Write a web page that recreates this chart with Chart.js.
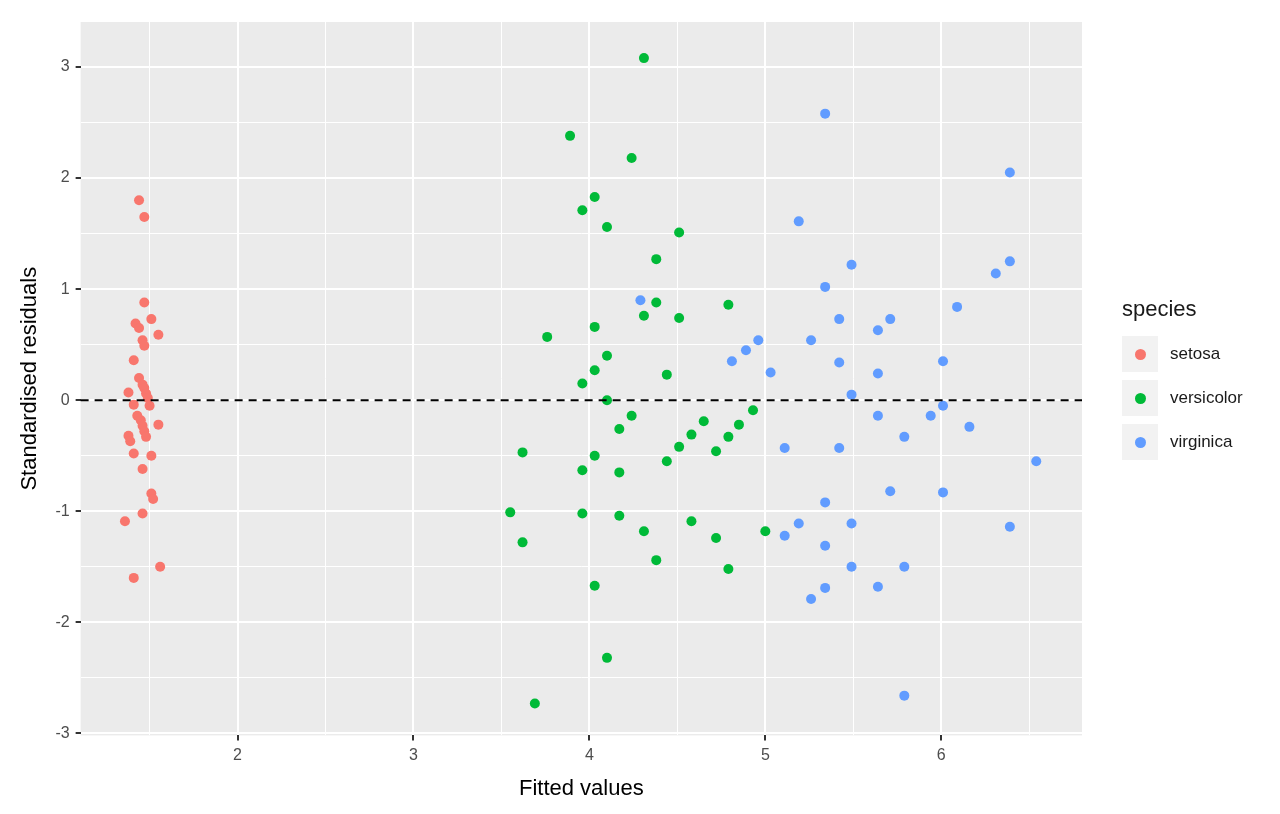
<!DOCTYPE html>
<html>
<head>
<meta charset="utf-8">
<script src="https://cdn.jsdelivr.net/npm/chart.js@4/dist/chart.umd.min.js"></script>
<style>
body{margin:0;background:#fff;font-family:Arial,"Liberation Sans",sans-serif}
#wrap{position:relative;width:1280px;height:814px}
#legend{position:absolute;left:1122px;top:296px;color:#1a1a1a}
#legend .t{font-size:22px;margin-bottom:10px}
#legend .row{display:flex;align-items:center;height:44px}
#legend .key{width:36px;height:36px;background:#f2f2f2;display:flex;align-items:center;justify-content:center;margin-right:12px}
#legend .dot{width:11px;height:11px;border-radius:50%}
#legend span{font-size:17px;color:#1a1a1a}
</style>
</head>
<body>
<div id="wrap">
<canvas id="chart" width="1280" height="814"></canvas>
<div id="legend"></div>
</div>
<script>
// dados (valores ajustados, resíduos padronizados)
const species = ["setosa", "versicolor", "virginica"];
const colors = ["#F8766D", "#00BA38", "#619CFF"];

const setosaX = [1.44,1.47,1.47,1.42,1.44,1.51,1.55,1.46,1.47,1.41,1.44,1.46,1.47,1.48,1.38,1.49,1.41,1.50,1.43,1.45,1.46,1.47,1.48,1.55,1.38,1.39,1.41,1.51,1.46,1.51,1.52,1.46,1.36,1.41,1.56];
const setosaY = [1.80,1.65,0.88,0.69,0.65,0.73,0.59,0.54,0.49,0.36,0.20,0.14,0.11,0.06,0.07,0.02,-0.04,-0.05,-0.14,-0.18,-0.23,-0.28,-0.33,-0.22,-0.32,-0.37,-0.48,-0.50,-0.62,-0.84,-0.89,-1.02,-1.09,-1.60,-1.50];

const versicolorX = [4.31,3.89,4.24,4.03,3.96,4.10,4.51,4.38,4.38,4.31,4.79,4.51,4.03,3.76,4.10,4.03,4.44,3.96,4.10,4.24,4.17,4.93,4.85,4.65,4.58,4.79,4.72,4.51,4.44,3.62,4.03,3.96,4.17,3.55,3.96,4.17,3.62,4.31,4.58,4.72,5.00,4.38,4.79,4.03,4.10,3.69];
const versicolorY = [3.08,2.38,2.18,1.83,1.71,1.56,1.51,1.27,0.88,0.76,0.86,0.74,0.66,0.57,0.40,0.27,0.23,0.15,0.00,-0.14,-0.26,-0.09,-0.22,-0.19,-0.31,-0.33,-0.46,-0.42,-0.55,-0.47,-0.50,-0.63,-0.65,-1.01,-1.02,-1.04,-1.28,-1.18,-1.09,-1.24,-1.18,-1.44,-1.52,-1.67,-2.32,-2.73];

const virginicaX = [5.34,6.39,5.19,5.49,6.39,6.31,5.34,6.09,4.29,5.42,5.71,5.64,5.26,4.96,4.89,4.81,5.42,6.01,5.03,5.64,5.49,6.01,5.64,5.94,6.16,5.79,5.11,5.42,6.54,5.71,6.01,5.34,5.49,5.19,5.11,6.39,5.34,5.49,5.79,5.26,5.34,5.64,5.79];
const virginicaY = [2.58,2.05,1.61,1.22,1.25,1.14,1.02,0.84,0.90,0.73,0.73,0.63,0.54,0.54,0.45,0.35,0.34,0.35,0.25,0.24,0.05,-0.05,-0.14,-0.14,-0.24,-0.33,-0.43,-0.43,-0.55,-0.82,-0.83,-0.92,-1.11,-1.11,-1.22,-1.14,-1.31,-1.50,-1.50,-1.79,-1.69,-1.68,-2.66];

const xTicks = [1.5,2,2.5,3,3.5,4,4.5,5,5.5,6,6.5];
const yTicks = [-3,-2.5,-2,-1.5,-1,-0.5,0,0.5,1,1.5,2,2.5,3];

const xs = [setosaX, versicolorX, virginicaX];
const ys = [setosaY, versicolorY, virginicaY];

const isMajor = v => Number.isInteger(v);

// fundo cinza do painel + linha tracejada em zero
const panelPlugin = {
    id: "panel",
    beforeDraw(chart) {
        const a = chart.chartArea, c = chart.ctx;
        c.save();
        c.fillStyle = "#EBEBEB";
        c.fillRect(a.left, a.top, a.right - a.left, a.bottom - a.top);
        c.restore();
    },
    afterDatasetsDraw(chart) {
        const a = chart.chartArea, c = chart.ctx;
        const y = chart.scales.y.getPixelForValue(0);
        c.save();
        c.strokeStyle = "#000";
        c.lineWidth = 2;
        c.setLineDash([8, 6]);
        c.beginPath();
        c.moveTo(a.left, y);
        c.lineTo(a.right, y);
        c.stroke();
        c.restore();
    }
};

const gridOpts = {
    color: "#fff",
    lineWidth: ctx => (ctx.tick && isMajor(ctx.tick.value)) ? 2 : 1,
    tickColor: ctx => (ctx.tick && isMajor(ctx.tick.value)) ? "#333" : "rgba(0,0,0,0)",
    tickLength: 5,
    drawOnChartArea: true
};

new Chart(document.getElementById("chart"), {
    type: "scatter",
    data: {
        datasets: species.map((s, i) => ({
            label: s,
            data: xs[i].map((x, j) => ({ x: x, y: ys[i][j] })),
            backgroundColor: colors[i],
            borderWidth: 0,
            pointRadius: 5
        }))
    },
    options: {
        responsive: false,
        animation: false,
        layout: { padding: { top: 22, right: 198, bottom: 8, left: 13 } },
        plugins: { legend: { display: false }, tooltip: { enabled: false } },
        scales: {
            x: {
                type: "linear",
                min: 1.108, max: 6.80,
                afterBuildTicks: sc => { sc.ticks = xTicks.map(v => ({ value: v })); },
                grid: gridOpts,
                border: { display: false },
                ticks: {
                    color: "#4D4D4D", font: { size: 16 }, padding: 6,
                    callback: v => isMajor(v) ? String(v) : ""
                },
                title: { display: true, text: "Fitted values", color: "#000", font: { size: 22 }, padding: { top: 4 } }
            },
            y: {
                type: "linear",
                min: -3.018, max: 3.405,
                afterBuildTicks: sc => { sc.ticks = yTicks.map(v => ({ value: v })); },
                grid: gridOpts,
                border: { display: false },
                ticks: {
                    color: "#4D4D4D", font: { size: 16 }, padding: 6,
                    callback: v => isMajor(v) ? String(v) : ""
                },
                title: { display: true, text: "Standardised residuals", color: "#000", font: { size: 22 }, padding: { bottom: 6 } }
            }
        }
    },
    plugins: [panelPlugin]
});

// legenda estilo ggplot
const legend = document.getElementById("legend");
let html = '<div class="t">species</div>';
species.forEach((s, i) => {
    html += '<div class="row"><div class="key"><div class="dot" style="background:' + colors[i] + '"></div></div><span>' + s + '</span></div>';
});
legend.innerHTML = html;
</script>
</body>
</html>
